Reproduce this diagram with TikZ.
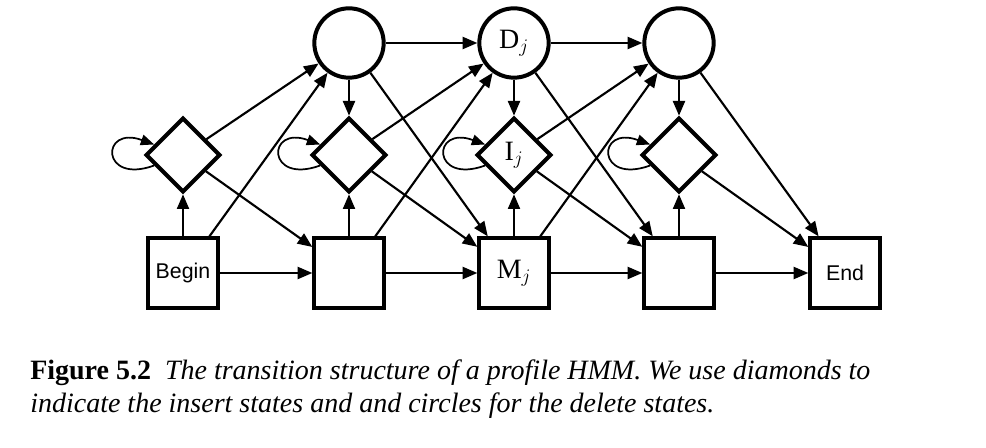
\documentclass[tikz,border=0pt]{standalone}
\usepackage{fontspec}
\setmainfont{Liberation Serif}
\newfontfamily\sansf{Liberation Sans}
\usetikzlibrary{shapes.geometric,arrows.meta}
\begin{document}
\begin{tikzpicture}[x=0.75pt,y=-0.75pt,
  st/.style={draw,line width=3pt,fill=white,inner sep=0pt},
  sq/.style={st,rectangle,minimum size=52pt},
  ci/.style={st,circle,minimum size=52pt},
  di/.style={st,diamond,minimum size=56pt},
  arr/.style={line width=1.6pt,-{Triangle[length=11pt,width=9pt]}},
  lp/.style={line width=1.3pt,-{Triangle[length=10pt,width=8pt]}},
  lab/.style={font=\fontsize{21}{24}\selectfont},
  sl/.style={font=\sansf\fontsize{16}{18}\selectfont}]
\useasboundingbox (0,0) rectangle (986,448);
\node[sq,sl] (m0) at (183,273) {Begin};
\node[sq] (m1) at (349,273) {};
\node[sq,lab] (m2) at (514,273) {M$_j$};
\node[sq] (m3) at (679,273) {};
\node[sq,sl] (m4) at (845,273) {End};
\node[di] (i0) at (183,155) {};
\node[di] (i1) at (349,155) {};
\node[di,lab] (i2) at (514,155) {I$_j$};
\node[di] (i3) at (679,155) {};
\node[ci] (d1) at (349,43) {};
\node[ci,lab] (d2) at (514,43) {D$_j$};
\node[ci] (d3) at (679,43) {};
\foreach \a/\b in {0/1,1/2,2/3,3/4} {
  \draw[arr] (m\a) -- (m\b);
}
\foreach \a in {0,1,2,3} {
  \draw[arr] (m\a) -- (i\a);
  \draw[lp] (i\a.200) to[out=200,in=160,looseness=7] (i\a.160);
}
\foreach \a/\b in {0/1,1/2,2/3,3/4} {
  \draw[arr] (i\a) -- (m\b);
}
\foreach \a/\b in {0/1,1/2,2/3} {
  \draw[arr] (m\a) -- (d\b);
  \draw[arr] (i\a) -- (d\b);
}
\foreach \a/\b in {1/2,2/3} { \draw[arr] (d\a) -- (d\b); }
\foreach \a/\b in {1/2,2/3,3/4} { \draw[arr] (d\a) -- (m\b); }
\foreach \a in {1,2,3} { \draw[arr] (d\a) -- (i\a); }
\node[anchor=west,font=\fontsize{21}{25}\selectfont,align=left,inner sep=0pt] (cap) at (30,389)
 {\textbf{Figure 5.2}\ \ \textit{The transition structure of a profile HMM. We use diamonds to}\\\textit{indicate the insert states and and circles for the delete states.}};
\end{tikzpicture}
\end{document}
